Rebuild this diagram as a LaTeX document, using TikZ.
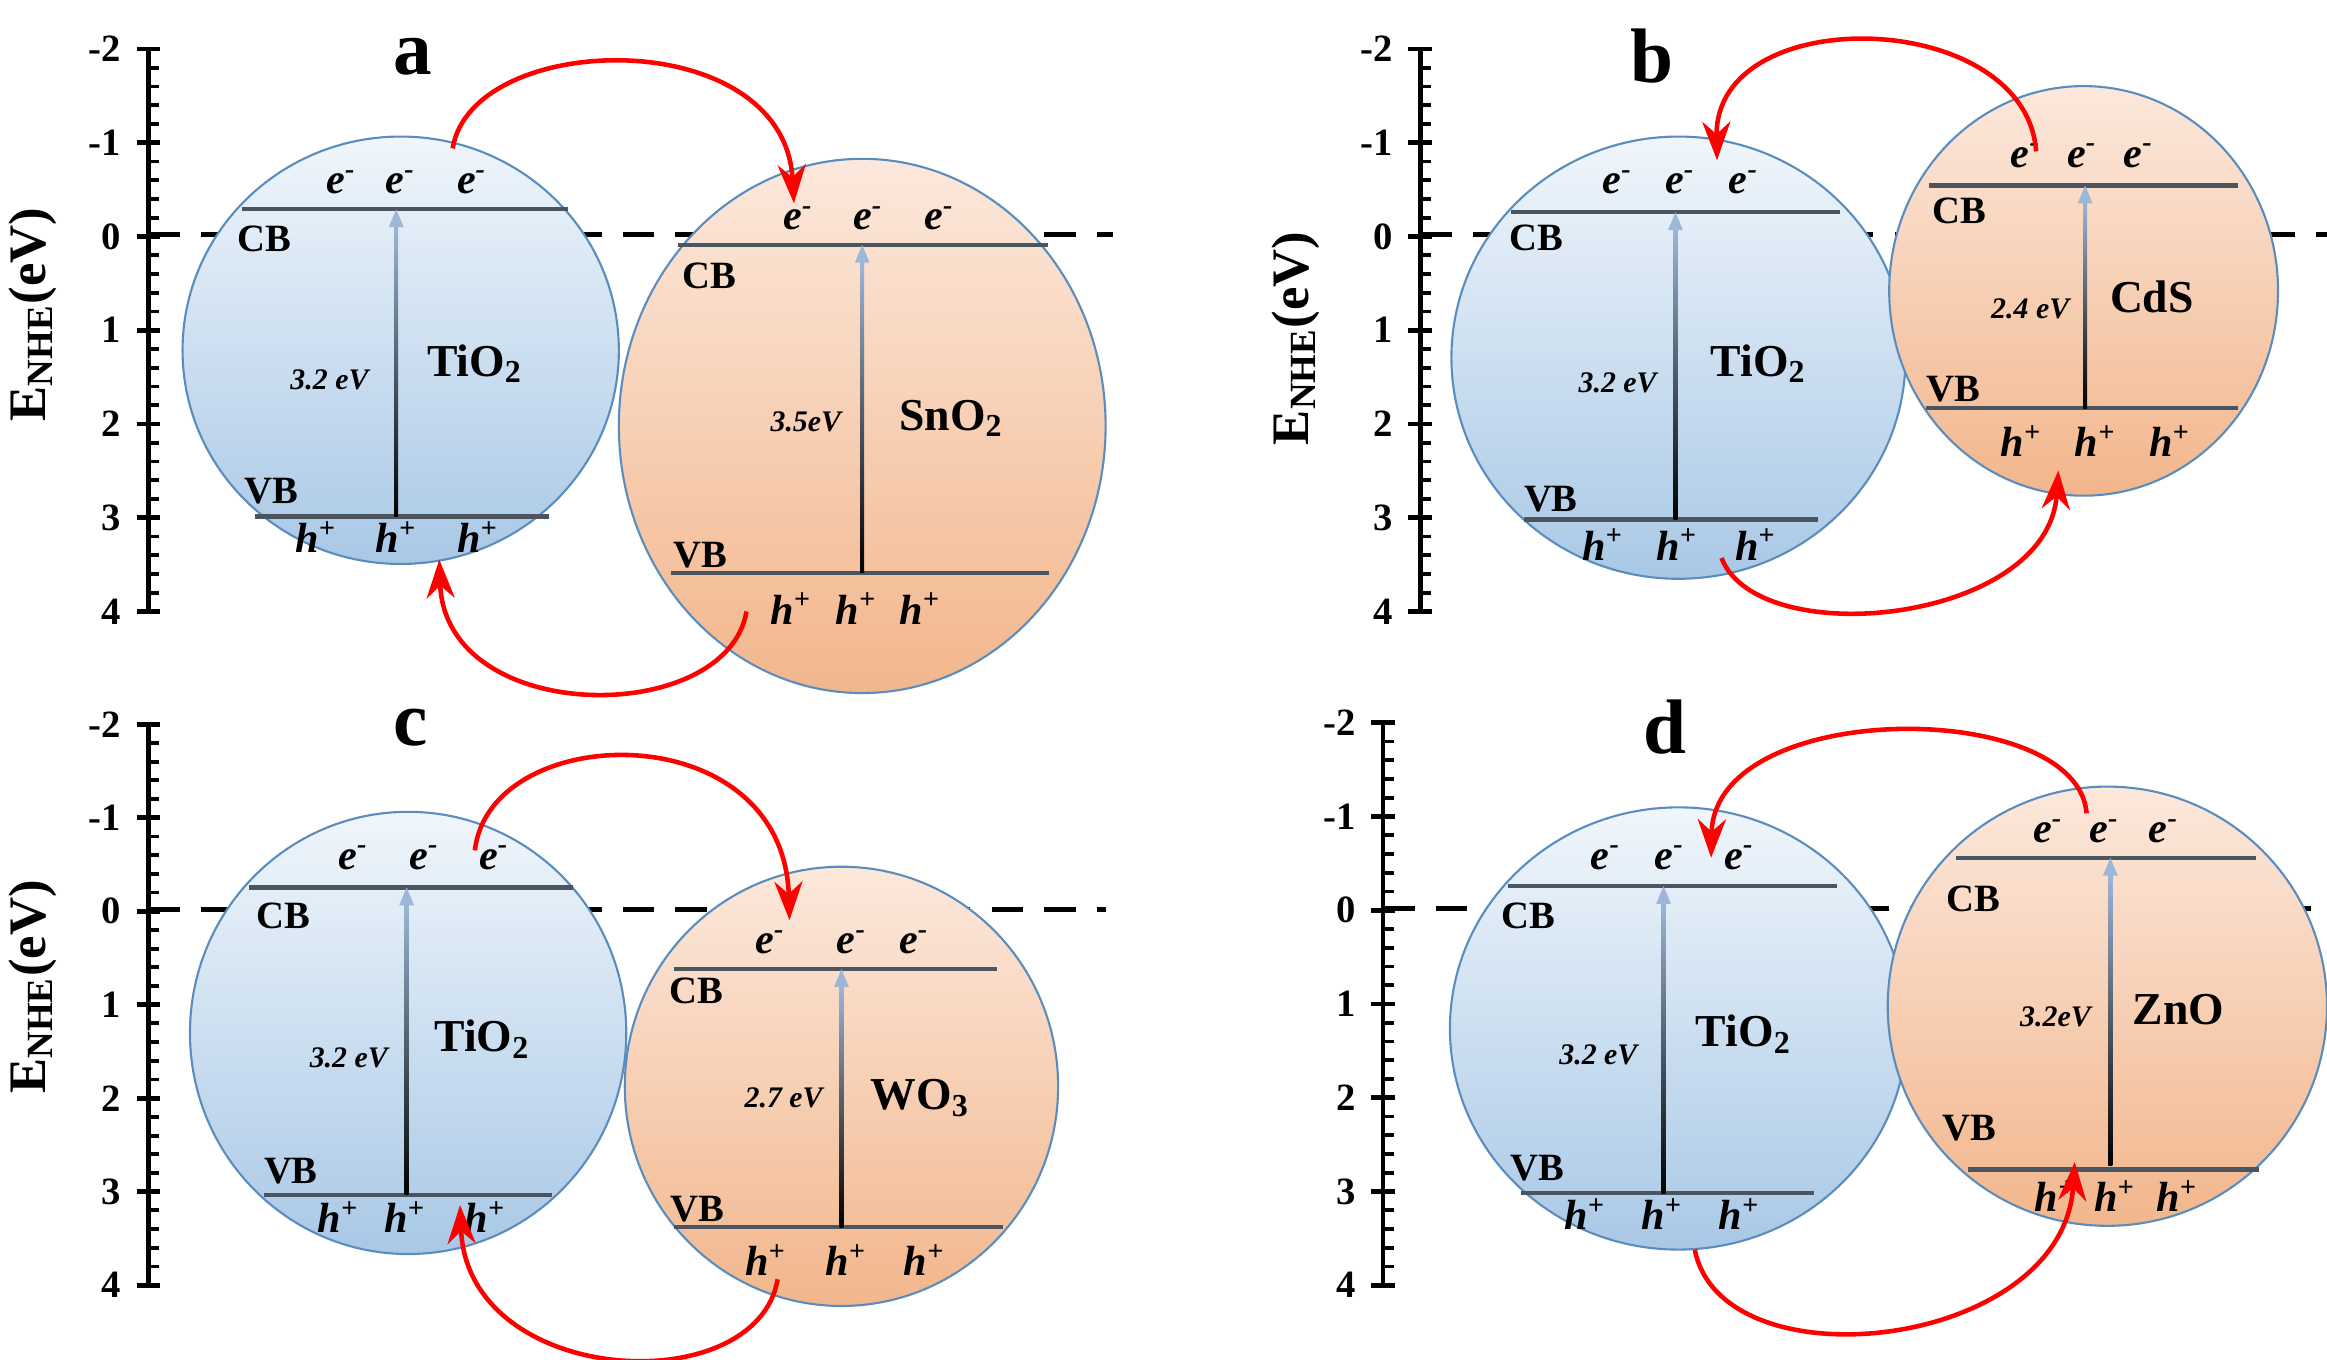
\documentclass[tikz,border=0pt]{standalone}
\usepackage{fontspec}
\setmainfont{Liberation Serif}
\usetikzlibrary{arrows.meta}
\definecolor{bluetop}{HTML}{F0F6FB}
\definecolor{bluebot}{HTML}{A9C8E6}
\definecolor{ortop}{HTML}{FCE8DC}
\definecolor{orbot}{HTML}{F2B68C}
\definecolor{edge}{HTML}{5A8DBE}
\definecolor{arrblue}{HTML}{9DB8D6}
\definecolor{bandline}{HTML}{4A5560}
\newcommand\el{e\textsuperscript{-}}
\newcommand\ho{h\textsuperscript{+}}
\tikzset{
 blueball/.style={draw=edge,line width=0.6pt,top color=bluetop,bottom color=bluebot},
 orball/.style={draw=edge,line width=0.6pt,top color=ortop,bottom color=orbot},
 band/.style={draw=bandline,line width=1.2pt},
 lbl/.style={font=\bfseries\fontsize{11}{12}\selectfont,inner sep=0pt},
 car/.style={font=\bfseries\itshape\fontsize{12}{13}\selectfont,inner sep=0pt},
 gap/.style={font=\bfseries\itshape\fontsize{8.5}{10}\selectfont,inner sep=0pt},
 mat/.style={font=\bfseries\fontsize{13}{14}\selectfont,inner sep=0pt},
 panel/.style={font=\bfseries\fontsize{22}{24}\selectfont,inner sep=0pt},
 redarr/.style={draw=red,line width=1.3pt,-{Stealth[length=11pt,width=8pt]}},
 ylab/.style={font=\bfseries\fontsize{15}{16}\selectfont,rotate=90,inner sep=0pt},
 dashline/.style={line width=1.3pt,dash pattern=on 9pt off 6pt}
}
\newcommand\myaxis[3]{% x, y(-2), y(4)
 \draw[line width=1.3pt] (#1,#2) -- (#1,#3);
 \foreach \i in {0,...,30}{
   \pgfmathsetmacro\yy{#2+\i*(#3-#2)/30}
   \draw[line width=1.1pt] (#1,\yy) -- ++(7,0);}
 \foreach \i/\t in {0/-2,1/-1,2/0,3/1,4/2,5/3,6/4}{
   \pgfmathsetmacro\yy{#2+\i*(#3-#2)/6}
   \draw[line width=1.3pt] (#1-8,\yy) -- (#1+8,\yy);
   \node[lbl,anchor=east] at (#1-18,\yy) {\t};}
}
\newcommand\gaparrow[3]{% x, yvb, ycb
 \shade[top color=arrblue,bottom color=black] (#1-1.3,#2) rectangle (#1+1.3,#3+10);
 \fill[arrblue] (#1-5,#3+12) -- (#1,#3) -- (#1+5,#3+12) -- cycle;
}
\begin{document}
\begin{tikzpicture}[x={(0.014841cm,0)},y={(0,-0.014841cm)}]
\useasboundingbox (0,0) rectangle (1568,916);
% ============ panel a
\myaxis{100}{33}{412}
\node[ylab] (ya) at (22,212) {E\textsubscript{NHE}(eV)};
\node[panel] (pa) at (278,38) {a};
\draw[dashline] (100,158) -- (750,158);
\draw[blueball] (270,236) ellipse (147 and 144);
\draw[orball] (581,287) ellipse (164 and 180);
\draw[band] (163,141) -- (383,141); \draw[band] (172,348) -- (370,348);
\gaparrow{267}{348}{141}
\node[car] (a1) at (230,123) {\el}; \node[car] (a2) at (270,123) {\el}; \node[car] (a3) at (318,123) {\el};
\node[car] (a4) at (213,362) {\ho}; \node[car] (a5) at (267,362) {\ho}; \node[car] (a6) at (322,362) {\ho};
\node[lbl] (a7) at (178,161) {CB}; \node[lbl] (a8) at (183,331) {VB};
\node[gap] (a9) at (222,256) {3.2 eV}; \node[mat] (a10) at (320,245) {TiO\textsubscript{2}};
\draw[band] (457,165) -- (706,165); \draw[band] (452,386) -- (707,386);
\gaparrow{581}{386}{165}
\node[car] (b1) at (538,147) {\el}; \node[car] (b2) at (585,147) {\el}; \node[car] (b3) at (633,147) {\el};
\node[car] (b4) at (533,410) {\ho}; \node[car] (b5) at (577,410) {\ho}; \node[car] (b6) at (620,410) {\ho};
\node[lbl] (b7) at (478,186) {CB}; \node[lbl] (b8) at (472,374) {VB};
\node[gap] (b9) at (543,284) {3.5eV}; \node[mat] (b10) at (641,282) {SnO\textsubscript{2}};
\draw[redarr] (305,100) .. controls (318,20) and (528,15) .. (535,137);
\draw[redarr] (503,412) .. controls (490,490) and (300,490) .. (296,377);
% ============ panel b
\myaxis{957}{33}{412}
\node[ylab] (yb) at (873,228) {E\textsubscript{NHE}(eV)};
\node[panel] (pb) at (1113,38) {b};
\draw[dashline] (957,158) -- (1568,158);
\draw[blueball] (1131,241) ellipse (153 and 149);
\draw[orball] (1404,196) ellipse (131 and 138);
\draw[band] (1018,143) -- (1240,143); \draw[band] (1027,350) -- (1225,350);
\gaparrow{1129}{350}{143}
\node[car] (c1) at (1090,123) {\el}; \node[car] (c2) at (1132,123) {\el}; \node[car] (c3) at (1175,123) {\el};
\node[car] (c4) at (1080,367) {\ho}; \node[car] (c5) at (1130,367) {\ho}; \node[car] (c6) at (1183,367) {\ho};
\node[lbl] (c7) at (1035,160) {CB}; \node[lbl] (c8) at (1045,336) {VB};
\node[gap] (c9) at (1090,258) {3.2 eV}; \node[mat] (c10) at (1185,245) {TiO\textsubscript{2}};
\draw[band] (1300,125) -- (1508,125); \draw[band] (1298,275) -- (1508,275);
\gaparrow{1405}{275}{125}
\node[car] (d1) at (1365,105) {\el}; \node[car] (d2) at (1403,105) {\el}; \node[car] (d3) at (1441,105) {\el};
\node[car] (d4) at (1362,297) {\ho}; \node[car] (d5) at (1412,297) {\ho}; \node[car] (d6) at (1462,297) {\ho};
\node[lbl] (d7) at (1320,142) {CB}; \node[lbl] (d8) at (1316,262) {VB};
\node[gap] (d9) at (1368,208) {2.4 eV}; \node[mat] (d10) at (1450,200) {CdS};
\draw[redarr] (1372,102) .. controls (1365,5) and (1155,0) .. (1157,108);
\draw[redarr] (1160,376) .. controls (1185,440) and (1380,420) .. (1387,317);
% ============ panel c
\myaxis{100}{488}{866}
\node[ylab] (yc) at (22,665) {E\textsubscript{NHE}(eV)};
\node[panel] (pc) at (277,490) {c};
\draw[dashline] (100,613) -- (745,613);
\draw[blueball] (275,696) ellipse (147 and 149);
\draw[orball] (567,732) ellipse (146 and 148);
\draw[band] (168,598) -- (386,598); \draw[band] (178,805) -- (372,805);
\gaparrow{274}{805}{598}
\node[car] (e1) at (238,578) {\el}; \node[car] (e2) at (286,578) {\el}; \node[car] (e3) at (333,578) {\el};
\node[car] (e4) at (228,820) {\ho}; \node[car] (e5) at (273,820) {\ho}; \node[car] (e6) at (327,820) {\ho};
\node[lbl] (e7) at (191,617) {CB}; \node[lbl] (e8) at (196,789) {VB};
\node[gap] (e9) at (235,713) {3.2 eV}; \node[mat] (e10) at (325,700) {TiO\textsubscript{2}};
\draw[band] (454,653) -- (672,653); \draw[band] (454,827) -- (676,827);
\gaparrow{567}{827}{653}
\node[car] (f1) at (519,635) {\el}; \node[car] (f2) at (574,635) {\el}; \node[car] (f3) at (616,635) {\el};
\node[car] (f4) at (516,849) {\ho}; \node[car] (f5) at (570,849) {\ho}; \node[car] (f6) at (623,849) {\ho};
\node[lbl] (f7) at (469,668) {CB}; \node[lbl] (f8) at (470,815) {VB};
\node[gap] (f9) at (528,740) {2.7 eV}; \node[mat] (f10) at (620,740) {WO\textsubscript{3}};
\draw[redarr] (320,573) .. controls (330,485) and (528,480) .. (532,620);
\draw[redarr] (524,862) .. controls (510,945) and (315,935) .. (310,812);
% ============ panel d
\myaxis{932}{487}{866}
\node[panel] (pd) at (1122,490) {d};
\draw[dashline] (932,612) -- (1568,612);
\draw[blueball] (1131,693) ellipse (154 and 149);
\draw[orball] (1420,678) ellipse (148 and 148);
\draw[band] (1016,597) -- (1238,597); \draw[band] (1025,804) -- (1222,804);
\gaparrow{1121}{804}{597}
\node[car] (g1) at (1082,578) {\el}; \node[car] (g2) at (1125,578) {\el}; \node[car] (g3) at (1172,578) {\el};
\node[car] (g4) at (1068,818) {\ho}; \node[car] (g5) at (1120,818) {\ho}; \node[car] (g6) at (1172,818) {\ho};
\node[lbl] (g7) at (1030,617) {CB}; \node[lbl] (g8) at (1036,787) {VB};
\node[gap] (g9) at (1077,711) {3.2 eV}; \node[mat] (g10) at (1175,697) {TiO\textsubscript{2}};
\draw[band] (1318,578) -- (1520,578); \draw[band] (1326,788) -- (1522,788);
\gaparrow{1422}{785}{578}
\node[car] (h1) at (1380,560) {\el}; \node[car] (h2) at (1418,560) {\el}; \node[car] (h3) at (1458,560) {\el};
\node[car] (h4) at (1385,806) {\ho}; \node[car] (h5) at (1425,806) {\ho}; \node[car] (h6) at (1467,806) {\ho};
\node[lbl] (h7) at (1330,606) {CB}; \node[lbl] (h8) at (1327,760) {VB};
\node[gap] (h9) at (1385,685) {3.2eV}; \node[mat] (h10) at (1468,680) {ZnO};
\draw[redarr] (1406,548) .. controls (1400,470) and (1155,470) .. (1153,578);
\draw[redarr] (1142,842) .. controls (1160,935) and (1390,910) .. (1398,783);
\end{tikzpicture}
\end{document}
